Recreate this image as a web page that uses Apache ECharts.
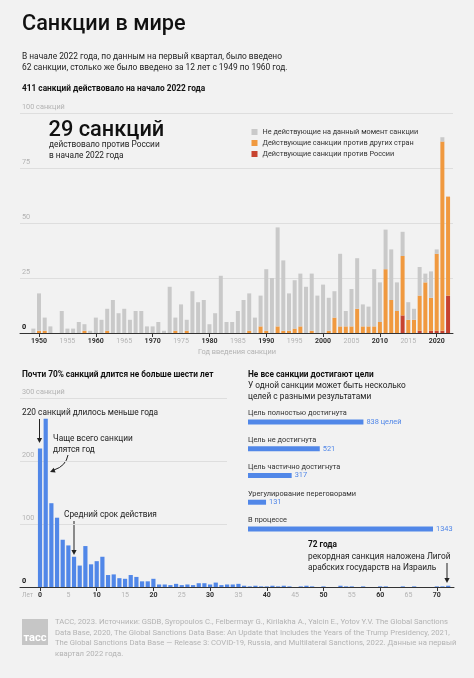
<!DOCTYPE html>
<html><head><meta charset="utf-8">
<script src="https://cdn.jsdelivr.net/npm/echarts@6/dist/echarts.min.js"></script>
<style>html,body{margin:0;padding:0;background:#f2f2f2}#c{width:474px;height:678px}</style>
</head><body><div id="c"></div>
<script>
// ---------- DATA ----------
const years = ['1949','1950','1951','1952','1953','1954','1955','1956','1957','1958',
 '1959','1960','1961','1962','1963','1964','1965','1966','1967','1968',
 '1969','1970','1971','1972','1973','1974','1975','1976','1977','1978',
 '1979','1980','1981','1982','1983','1984','1985','1986','1987','1988',
 '1989','1990','1991','1992','1993','1994','1995','1996','1997','1998',
 '1999','2000','2001','2002','2003','2004','2005','2006','2007','2008',
 '2009','2010','2011','2012','2013','2014','2015','2016','2017','2018',
 '2019','2020','2021','2022'];
const inactive = [2,17,6,3,0,10,2,2,5,3, 1,7,6,10,15,9,11,6,10,10, 3,3,5,1,21,6,13,5,19,14,
 15,4,9,26,5,5,10,15,17,7, 14,28,25,45,32,17,22,24,21,26, 17,22,15,12,33,7,17,23,10,9,
 26,18,18,23,13,11,8,5,13,4, 12,2,2,0];
const activeOther = [0,1,1,0,0,0,0,0,0,1, 0,0,0,1,0,0,0,0,0,0, 0,0,0,0,0,1,0,1,0,0,
 0,0,0,0,0,0,0,0,1,0, 3,1,0,3,1,1,2,3,0,1, 0,0,1,7,3,3,3,11,3,3,
 3,5,29,15,10,27,6,6,16,23, 15,35,86,45];
const activeRussia = [0,0,0,0,0,0,0,0,0,0, 0,0,0,0,0,0,0,0,0,0, 0,0,0,0,0,0,0,0,0,0,
 0,0,0,0,0,0,0,0,0,0, 0,0,0,0,0,0,0,0,0,0, 0,0,0,0,0,0,0,0,0,0,
 0,0,0,0,0,8,0,0,1,0, 1,1,1,17];
const topTicks = [0,25,50,75,100];

const durationYears = ['0','1','2','3','4','5','6','7','8','9','10','11','12','13','14','15','16','17','18','19',
 '20','21','22','23','24','25','26','27','28','29','30','31','32','33','34','35','36','37','38','39',
 '40','41','42','43','44','45','46','47','48','49','50','51','52','53','54','55','56','57','58','59',
 '60','61','62','63','64','65','66','67','68','69','70','71','72'];
const durationCounts = [220,267,133,110,75,66,48,34,65,36, 41,48,19,20,14,13,19,16,9,9,
 13,4,4,3,5,3,4,3,6,6, 4,7,3,4,4,5,2,1,2,1, 1,2,1,2,1,0,1,2,1,0,
 1,0,0,2,1,1,0,1,0,0, 1,1,0,0,1,0,1,0,0,0, 1,1,2];
const durationTicks = [0,100,200,300];

const goalNames = ['Цель полностью достигнута','Цель не достигнута','Цель частично достигнута','Урегулирование переговорами','В процессе'];
const goalValues = [838,521,317,131,1343];

// ---------- STYLE ----------
const FONT = 'Roboto';
const GREY = '#c9c9c9', ORANGE = '#f0993f', RED = '#c7432f', BLUE = '#5187e8';
const LIGHT = '#b3b3b3', GRID = '#dedede';

const mctx = document.createElement('canvas').getContext('2d');
function fit(text, width, weight) {
  mctx.font = (weight || 'normal') + ' 100px ' + FONT;
  return Math.round(100 * width / mctx.measureText(text).width * 10) / 10;
}
function txt(x, y, text, size, opt) {
  opt = opt || {};
  return {type:'text', x:x, y:y, silent:true, style:{text:text, fontFamily:FONT, fontSize:size,
    fontWeight:opt.w||'normal', fill:opt.c||'#222', align:opt.a||'left', verticalAlign:'middle'}};
}
function arrowHead(x, y, ang) {
  const L = 5, W = 2.6;
  const bx = x - L*Math.cos(ang), by = y - L*Math.sin(ang);
  const px = -Math.sin(ang)*W, py = Math.cos(ang)*W;
  return {type:'polygon', silent:true, shape:{points:[[x,y],[bx+px,by+py],[bx-px,by-py]]}, style:{fill:'#222'}};
}
function vArrow(x, y1, y2) {
  return [{type:'line', silent:true, shape:{x1:x,y1:y1,x2:x,y2:y2-3}, style:{stroke:'#222', lineWidth:1}},
          arrowHead(x, y2, Math.PI/2)];
}

const fsSub = fit('В начале 2022 года, по данным на первый квартал, было введено', 260);
const fsBody = fit('220 санкций длилось меньше года', 136);
const fsHead = fit('Почти 70% санкций длится не больше шести лет', 191, 'bold');
const fsFoot = fit('ТАСС, 2023. Источники: GSDB, Syropoulos C., Felbermayr G., Kirilakha A., Yalcin E., Yotov Y.V. The Global Sanctions', 394);
const fsLegend = fit('Не действующие на данный момент санкции', 156);
const fsYear = fit('1950', 16, 'bold');
const fsAxisY = fit('100 санкций', 43);
const fsCat = fit('Урегулирование переговорами', 108.5);
const fsVal = fit('838 целей', 35);

const yearLabelFmt = v => (+v % 10 === 0) ? '{b|' + v + '}' : '{l|' + v + '}';
const rich = {b:{fontFamily:FONT, fontSize:fsYear, fontWeight:'bold', color:'#333'},
              l:{fontFamily:FONT, fontSize:fsYear, color:LIGHT}};

const graphics = [
  txt(22, 25, 'Санкции в мире', fit('Санкции в мире', 164, 500), {w:500, c:'#111'}),
  txt(22, 57, 'В начале 2022 года, по данным на первый квартал, было введено', fsSub),
  txt(22, 68, '62 санкции, столько же было введено за 12 лет с 1949 по 1960 год.', fsSub),
  txt(22, 89, '411 санкций действовало на начало 2022 года', fsHead, {w:'bold', c:'#111'}),
  txt(48.5, 131, '29 санкций', fit('29 санкций', 116, 500), {w:500, c:'#111'}),
  txt(49, 145, 'действовало против России', fsBody),
  txt(49, 156, 'в начале 2022 года', fsBody),
  txt(237, 352, 'Год введения санкции', fit('Год введения санкции', 78), {c:LIGHT, a:'center'}),
  txt(22, 375, 'Почти 70% санкций длится не больше шести лет', fsHead, {w:'bold', c:'#111'}),
  txt(22, 413, '220 санкций длилось меньше года', fsBody),
  txt(53, 439, 'Чаще всего санкции', fsBody),
  txt(53, 450, 'длятся год', fsBody),
  txt(64, 515, 'Средний срок действия', fsBody),
  txt(248, 375, 'Не все санкции достигают цели', fsHead, {w:'bold', c:'#111'}),
  txt(248, 386, 'У одной санкции может быть несколько', fsBody),
  txt(248, 397, 'целей с разными результатами', fsBody),
  txt(308, 545, '72 года', fsHead, {w:'bold', c:'#111'}),
  txt(308, 557, 'рекордная санкция наложена Лигой', fsBody),
  txt(308, 568, 'арабских государств на Израиль', fsBody),
  txt(22, 595, 'Лет', fit('Лет', 11), {c:LIGHT}),
  {type:'rect', silent:true, shape:{x:22, y:619, width:26, height:26}, style:{fill:'#c6c6c6'}},
  txt(35, 638.5, 'тасс', fit('тасс', 23, 'bold'), {w:'bold', c:'#fff', a:'center'}),
  txt(55, 622, 'ТАСС, 2023. Источники: GSDB, Syropoulos C., Felbermayr G., Kirilakha A., Yalcin E., Yotov Y.V. The Global Sanctions', fsFoot, {c:LIGHT}),
  txt(55, 633, 'Data Base, 2020, The Global Sanctions Data Base: An Update that Includes the Years of the Trump Presidency, 2021,', fsFoot, {c:LIGHT}),
  txt(55, 643.5, 'The Global Sanctions Data Base — Release 3: COVID-19, Russia, and Multilateral Sanctions, 2022. Данные на первый', fsFoot, {c:LIGHT}),
  txt(55, 654, 'квартал 2022 года.', fsFoot, {c:LIGHT}),
  ...vArrow(39.5, 419, 443),
  {type:'bezierCurve', silent:true, shape:{x1:68, y1:455, cpx1:66, cpy1:466, x2:54, y2:470}, style:{stroke:'#222', lineWidth:1, fill:null}},
  arrowHead(50, 472, Math.PI*0.88),
  ...vArrow(74, 521, 555),
  ...vArrow(447, 563, 583)
];

const yRich = {z:{fontFamily:FONT, fontSize:fsAxisY, fontWeight:'bold', color:'#111'}, g:{fontFamily:FONT, fontSize:fsAxisY, color:LIGHT}};

const chart = echarts.init(document.getElementById('c'), null, {renderer:'canvas'});
chart.setOption({
  backgroundColor:'#f2f2f2',
  animation:false,
  textStyle:{fontFamily:FONT},
  grid:[
    {left:30.5, right:23.1, top:113, bottom:345},
    {left:20, right:21, top:113, bottom:345},
    {left:37.2, right:23, top:398, bottom:91},
    {left:20, right:247, top:398, bottom:91},
    {left:20, right:20, top:398, bottom:91},
    {left:248, width:185, top:408.6, height:133.75}
  ],
  legend:{
    orient:'vertical', left:246.5, top:121.5, itemWidth:6, itemHeight:6, itemGap:0, icon:'rect',
    data:['Не действующие на данный момент санкции','Действующие санкции против других стран','Действующие санкции против России'],
    textStyle:{fontFamily:FONT, fontSize:fsLegend, lineHeight:11, color:'#333', padding:[0,0,0,0]}
  },
  xAxis:[
    {type:'category', gridIndex:0, data:years, axisLine:{show:false},
     axisTick:{show:true, alignWithLabel:true, interval:(i,v)=>(+v%10===0), length:4, lineStyle:{color:'#333'}},
     axisLabel:{interval:(i,v)=>(+v%5===0), formatter:yearLabelFmt, rich:rich, margin:5}},
    {type:'value', gridIndex:1, min:0, max:1, axisLine:{show:true, lineStyle:{color:'#333'}}, axisTick:{show:false}, axisLabel:{show:false}, splitLine:{show:false}},
    {type:'category', gridIndex:2, data:durationYears, axisLine:{show:false},
     axisTick:{show:true, alignWithLabel:true, interval:(i,v)=>(+v%10===0), length:4, lineStyle:{color:'#333'}},
     axisLabel:{interval:(i,v)=>(+v%5===0), formatter:yearLabelFmt, rich:rich, margin:5}},
    {type:'value', gridIndex:3, show:false},
    {type:'value', gridIndex:4, min:0, max:1, axisLine:{show:true, lineStyle:{color:'#333'}}, axisTick:{show:false}, axisLabel:{show:false}, splitLine:{show:false}},
    {type:'value', gridIndex:5, min:0, max:1343, show:false}
  ],
  yAxis:[
    {type:'value', gridIndex:0, min:0, max:100, show:false},
    {type:'value', gridIndex:1, min:topTicks[0], max:topTicks[topTicks.length-1], interval:25,
     axisLine:{show:false}, axisTick:{show:false},
     splitLine:{lineStyle:{color:GRID}},
     axisLabel:{inside:true, margin:2, verticalAlign:'bottom', padding:[0,0,2,0],
       formatter:v => v===0 ? '{z|0}' : (v===100 ? '{g|100 санкций}' : '{g|' + v + '}'), rich:yRich}},
    {type:'value', gridIndex:2, min:0, max:300, show:false},
    {type:'value', gridIndex:3, min:durationTicks[0], max:durationTicks[durationTicks.length-1], interval:100,
     axisLine:{show:false}, axisTick:{show:false},
     splitLine:{lineStyle:{color:GRID}},
     axisLabel:{inside:true, margin:2, verticalAlign:'bottom', padding:[0,0,2,0],
       formatter:v => v===0 ? '{z|0}' : (v===300 ? '{g|300 санкций}' : '{g|' + v + '}'), rich:yRich}},
    {type:'value', gridIndex:4, min:0, max:300, show:false},
    {type:'category', gridIndex:5, data:goalNames, inverse:true, axisLine:{show:false}, axisTick:{show:false},
     axisLabel:{inside:true, margin:0, verticalAlign:'bottom', padding:[0,0,5,0], fontFamily:FONT, fontSize:fsCat, color:'#333'}}
  ],
  series:[
    {name:'Действующие санкции против России', type:'bar', stack:'s', xAxisIndex:0, yAxisIndex:0, barWidth:4, data:activeRussia, itemStyle:{color:RED}},
    {name:'Действующие санкции против других стран', type:'bar', stack:'s', xAxisIndex:0, yAxisIndex:0, barWidth:4, data:activeOther, itemStyle:{color:ORANGE}},
    {name:'Не действующие на данный момент санкции', type:'bar', stack:'s', xAxisIndex:0, yAxisIndex:0, barWidth:4, data:inactive, itemStyle:{color:GREY}},
    {type:'bar', xAxisIndex:2, yAxisIndex:2, barWidth:4.2, data:durationCounts, itemStyle:{color:BLUE}},
    {type:'bar', xAxisIndex:5, yAxisIndex:5, barWidth:5, data:goalValues, itemStyle:{color:BLUE},
     label:{show:true, position:'right', distance:3, fontFamily:FONT, fontSize:fsVal, color:BLUE,
       formatter:p => p.dataIndex===0 ? p.value + ' целей' : String(p.value)}}
  ],
  graphic:graphics
});
</script></body></html>
